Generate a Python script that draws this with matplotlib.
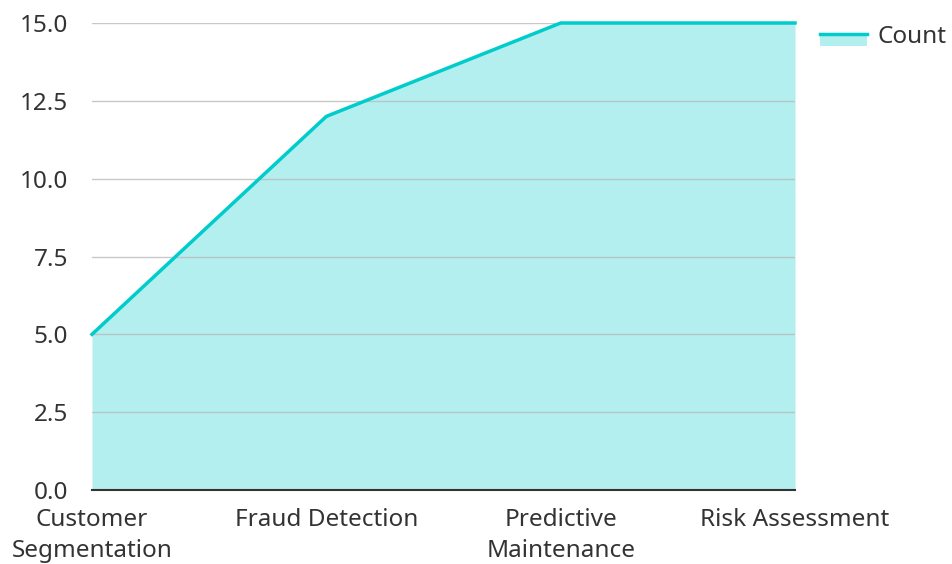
import matplotlib
matplotlib.use("Agg")
from matplotlib import pyplot as plt
from matplotlib.legend_handler import HandlerBase
from matplotlib.patches import Rectangle
from matplotlib.lines import Line2D

plt.rcParams['font.family'] = ['Noto Sans', 'DejaVu Sans']

categories = ["Customer\nSegmentation", "Fraud Detection", "Predictive\nMaintenance", "Risk Assessment"]
counts = [5, 12, 15, 15]
y_ticks = [0.0, 2.5, 5.0, 7.5, 10.0, 12.5, 15.0]

LINE = "#00cccc"
FILL = "#b2efee"
FS = 17.5


class AreaHandler(HandlerBase):
    # legend entry: filled box with a thick line on top
    def create_artists(self, legend, orig, xd, yd, w, h, fontsize, trans):
        top = yd + h * 0.55
        bottom = yd - h * 0.2
        r = Rectangle((xd, bottom), w, top - bottom,
                      facecolor=FILL, edgecolor="none", transform=trans)
        l = Line2D([xd, xd + w], [top, top], color=LINE, linewidth=2.5, transform=trans)
        return [r, l]


fig = plt.figure(figsize=(9.52, 5.64), dpi=100)
ax = fig.add_axes([92 / 952, 1 - 490 / 564, (795 - 92) / 952, (490 - 23) / 564])

x = list(range(len(categories)))
area = ax.fill_between(x, counts, 0, color=FILL, linewidth=0, zorder=1)
ax.plot(x, counts, color=LINE, linewidth=2.5, zorder=3, clip_on=False)

ax.set_xlim(0, len(categories) - 1)
ax.set_ylim(0, 15)
ax.set_yticks(y_ticks)
ax.set_yticklabels([f"{v:.1f}" for v in y_ticks])
ax.set_xticks(x)
ax.set_xticklabels(categories, linespacing=1.4)

ax.grid(axis="y", color="#bbbbbb", linewidth=1, alpha=0.8, zorder=2)
ax.set_axisbelow(False)
for s in ["top", "right", "left"]:
    ax.spines[s].set_visible(False)
ax.spines["bottom"].set_color("#333333")
ax.spines["bottom"].set_linewidth(1.5)
ax.spines["bottom"].set_zorder(4)

ax.tick_params(axis="both", length=0, labelsize=FS, labelcolor="#333333")
ax.tick_params(axis="y", pad=17)
ax.tick_params(axis="x", pad=13)

ax.legend([area], ["Count"], handler_map={area: AreaHandler()},
          loc="upper left", bbox_to_anchor=(820 / 952, 1 - 25 / 564),
          bbox_transform=fig.transFigure, frameon=False, fontsize=FS,
          borderpad=0, borderaxespad=0,
          handlelength=1.95, handletextpad=0.4, labelcolor="#333333")

plt.savefig("out.png", dpi=100)
